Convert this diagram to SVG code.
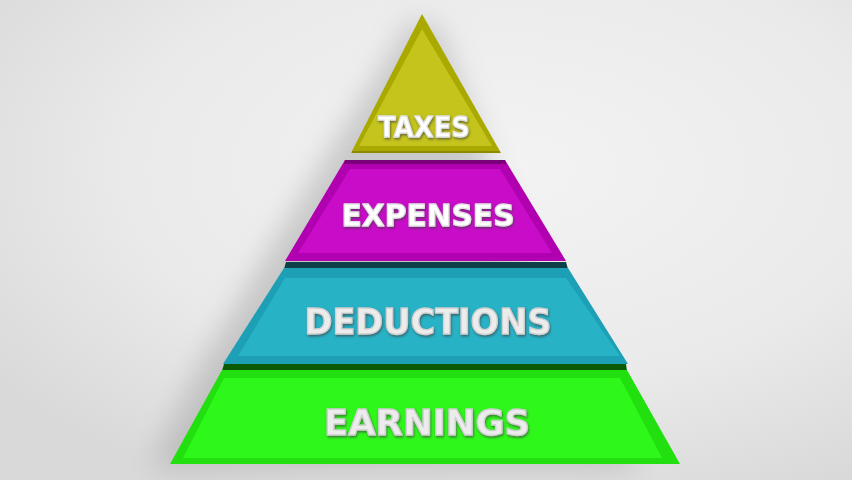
<svg xmlns="http://www.w3.org/2000/svg" width="852" height="480" viewBox="0 0 852 480">
<defs>
<radialGradient id="bg" cx="0.6" cy="0.35" r="0.75">
<stop offset="0" stop-color="#f3f3f3"/>
<stop offset="0.6" stop-color="#eaeaea"/>
<stop offset="1" stop-color="#d9d9d9"/>
</radialGradient>
<filter id="blur" x="-20%" y="-20%" width="140%" height="140%"><feGaussianBlur stdDeviation="14"/></filter>
<filter id="ts" x="-10%" y="-30%" width="120%" height="160%">
<feDropShadow dx="0.8" dy="1.6" stdDeviation="1" flood-color="#404040" flood-opacity="0.7"/>
</filter>
<style>
.lbl{font-family:"DejaVu Sans","Liberation Sans",sans-serif;font-weight:bold;text-anchor:middle;filter:url(#ts)}
.w{fill:#ffffff;stroke:#e2e2e2;stroke-width:1.3;stroke-linejoin:round}
.g{fill:#ececec;stroke:#cfcfcf;stroke-width:1.4;stroke-linejoin:round}
</style>
</defs>
<rect width="852" height="480" fill="url(#bg)"/>
<polygon points="412,20 330,150 262,262 200,366 150,468 640,468 540,300 440,30" fill="#9a9a9a" opacity="0.45" filter="url(#blur)"/>

<g id="taxes">
<polygon points="422,14 351,153 501,153" fill="#a9a900"/>
<polygon points="422,29 359,146 492,146" fill="#c4c41c"/>
<line x1="352" y1="152" x2="500" y2="152" stroke="#8a8a00" stroke-width="2"/>
<text class="lbl w" x="424" y="137" font-size="29" textLength="92" lengthAdjust="spacingAndGlyphs">TAXES</text>
</g>

<g id="expenses">
<polygon points="345,160 505,160 566,261 285,261" fill="#b000b0"/>
<polygon points="345,160 505,160 506,164 344,164" fill="#7a007a"/>
<polygon points="350,169 500,169 552,253 298,253" fill="#c80cc8"/>
<text class="lbl w" x="428" y="226" font-size="30" textLength="173" lengthAdjust="spacingAndGlyphs">EXPENSES</text>
</g>

<g id="deductions">
<polygon points="286,262 566,262 568,269 284,269" fill="#0c3f48"/>
<polygon points="284,268 568,268 628,364 223,364" fill="#1d9fb6"/>
<polygon points="285,278 566,278 620,356 238,356" fill="#27b2c6"/>
<text class="lbl g" x="428" y="334" font-size="35" textLength="247" lengthAdjust="spacingAndGlyphs">DEDUCTIONS</text>
</g>

<g id="earnings">
<polygon points="224,364 626,364 627,371 222,371" fill="#0b5a06"/>
<polygon points="222,370 627,370 680,464 170,464" fill="#22e010"/>
<polygon points="224,378 620,378 662,458 183,458" fill="#2ef81a"/>
<text class="lbl g" x="427" y="435" font-size="35" textLength="206" lengthAdjust="spacingAndGlyphs">EARNINGS</text>
</g>
</svg>
